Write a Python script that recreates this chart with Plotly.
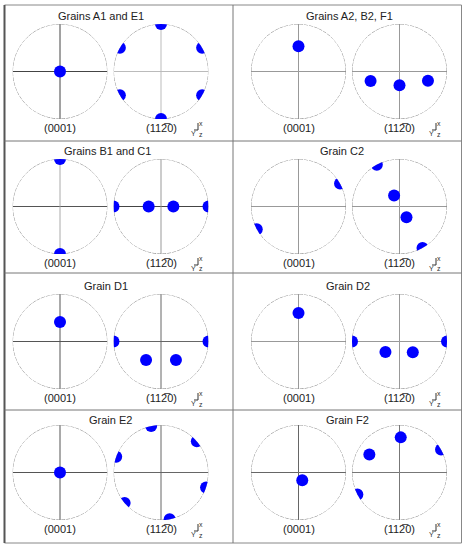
import numpy as np
import plotly.graph_objects as go

W, H = 466, 550

# ---------------- data ----------------
titles = ["Grains A1 and E1", "Grains A2, B2, F1", "Grains B1 and C1", "Grain C2",
          "Grain D1", "Grain D2", "Grain E2", "Grain F2"]
plane_labels = ["(0001)", "(112\u03050)"]

# (0001) poles: radial position (fraction of circle radius) and angle (deg, ccw from +x)
basal_r = [[0.0], [0.53], [1.0, 1.0], [1.0, 1.0], [0.41], [0.6], [0.0], [0.18]]
basal_theta = [[0], [90], [90, 270], [29, 208.5], [90], [90], [0], [296]]

# (11-20) poles
prism_r = [[1, 1, 1, 1, 1, 1], [0.64, 0.29, 0.63], [1, 0.26, 0.26, 1], [1, 0.26, 0.27, 1],
           [1, 0.5, 0.5, 1], [1, 0.37, 0.36, 1], [1, 1, 1, 1, 1, 1], [0.74, 0.74, 1, 1]]
prism_theta = [[90, 30, -30, -90, -150, 150], [198, 270, 342], [180, 180, 0, 0],
               [118.5, 116, 303, 299], [180, 231, 309, 0], [180, 217, 321, 0],
               [102, 41, 341.6, 280.5, 220, 160.6], [88, 149, 29, 207.5]]

# ---------------- layout geometry (pixels) ----------------
R = 47.5
row_cy = [71.5, 206.5, 341.5, 472.5]
col_cx = [[60, 161], [298.5, 399.5]]
title_y = [16, 151, 286, 420]
label_y = [128, 263, 398, 529]
title_x = [101, 349, 107, 342, 106, 348, 110, 347]
icon_x = [198, 436]

cross_colors = [
    (("#444", "#444"), ("#bbb", "#bbb")),
    (("#999", "#999"), ("#999", "#999")),
    (("#555", "#aaa"), ("#444", "#999")),
    (("#999", "#999"), ("#999", "#999")),
    (("#555", "#555"), ("#666", "#666")),
    (("#999", "#999"), ("#999", "#999")),
    (("#555", "#555"), ("#666", "#666")),
    (("#666", "#666"), ("#777", "#777")),
]

def px(x):
    return x / W

def py(y):
    return 1 - y / H

fig = go.Figure()
layout_polars = {}
annotations = []
shapes = []
ring = np.linspace(0, 360, 181)

k = 0
for p in range(8):
    row, col = divmod(p, 2)
    cy = row_cy[row]
    for j in range(2):
        k += 1
        name = "polar" if k == 1 else f"polar{k}"
        cx = col_cx[col][j]
        layout_polars[name] = dict(
            domain=dict(x=[px(cx - R), px(cx + R)], y=[py(cy + R), py(cy - R)]),
            bgcolor="white",
            radialaxis=dict(range=[0, 1], visible=False),
            angularaxis=dict(visible=False, showgrid=False, showline=False, ticks=""),
        )
        hcol, vcol = cross_colors[p][j]
        # crosshair
        fig.add_trace(go.Scatterpolar(r=[1, 0, 1], theta=[0, 0, 180], mode="lines",
                                      line=dict(color=hcol, width=1), subplot=name,
                                      cliponaxis=False, hoverinfo="skip", showlegend=False))
        fig.add_trace(go.Scatterpolar(r=[1, 0, 1], theta=[90, 0, 270], mode="lines",
                                      line=dict(color=vcol, width=1), subplot=name,
                                      cliponaxis=False, hoverinfo="skip", showlegend=False))
        # outline
        fig.add_trace(go.Scatterpolar(r=[1] * len(ring), theta=ring, mode="lines",
                                      line=dict(color="#8a8a8a", width=1, dash="4px,1px"),
                                      subplot=name, cliponaxis=False,
                                      hoverinfo="skip", showlegend=False))
        # poles
        rr = basal_r[p] if j == 0 else prism_r[p]
        tt = basal_theta[p] if j == 0 else prism_theta[p]
        fig.add_trace(go.Scatterpolar(r=rr, theta=tt, mode="markers",
                                      marker=dict(color="#0000ff", size=12, line=dict(width=0)),
                                      subplot=name, cliponaxis=True, showlegend=False))
        annotations.append(dict(x=px(cx), y=py(label_y[row]), xref="paper", yref="paper",
                                text=plane_labels[j], showarrow=False,
                                font=dict(family="Liberation Sans", size=11, color="#222"),
                                xanchor="center", yanchor="middle"))
    annotations.append(dict(x=px(title_x[p]), y=py(title_y[row]), xref="paper", yref="paper",
                            text=titles[p], showarrow=False,
                            font=dict(family="Liberation Sans", size=11, color="#222"),
                            xanchor="center", yanchor="middle"))
    # little axis icon
    ix, iy = icon_x[col], label_y[row] + 2
    shapes.append(dict(type="path", xref="paper", yref="paper",
                       path=f"M {px(ix)},{py(iy - 7)} L {px(ix)},{py(iy)} L {px(ix - 4)},{py(iy)}",
                       line=dict(color="#333", width=1)))
    for t, dx, dy in [("x", 3, -7), ("Y", -5, 3), ("z", 3, 4)]:
        annotations.append(dict(x=px(ix + dx), y=py(iy + dy), xref="paper", yref="paper",
                                text=t, showarrow=False,
                                font=dict(family="Liberation Sans", size=7, color="#333"),
                                xanchor="center", yanchor="middle"))

# frame and dividers
shapes.append(dict(type="rect", xref="paper", yref="paper",
                   x0=px(4.5), x1=px(461.5), y0=py(543), y1=py(5),
                   line=dict(color="#888", width=1)))
shapes.append(dict(type="line", xref="paper", yref="paper",
                   x0=px(4.5), x1=px(4.5), y0=py(543), y1=py(5),
                   line=dict(color="#555", width=2)))
shapes.append(dict(type="line", xref="paper", yref="paper",
                   x0=px(233), x1=px(233), y0=py(543), y1=py(5),
                   line=dict(color="#777", width=1)))
for yy in [141, 273, 410]:
    shapes.append(dict(type="line", xref="paper", yref="paper",
                       x0=px(4.5), x1=px(461.5), y0=py(yy), y1=py(yy),
                       line=dict(color="#777", width=1)))

fig.update_layout(
    width=W, height=H,
    margin=dict(l=0, r=0, t=0, b=0),
    paper_bgcolor="white",
    showlegend=False,
    annotations=annotations,
    shapes=shapes,
    **layout_polars,
)

fig.write_html("out.html", config={"displayModeBar": False},
               post_script="document.body.style.margin='0';document.body.style.overflow='hidden';")
